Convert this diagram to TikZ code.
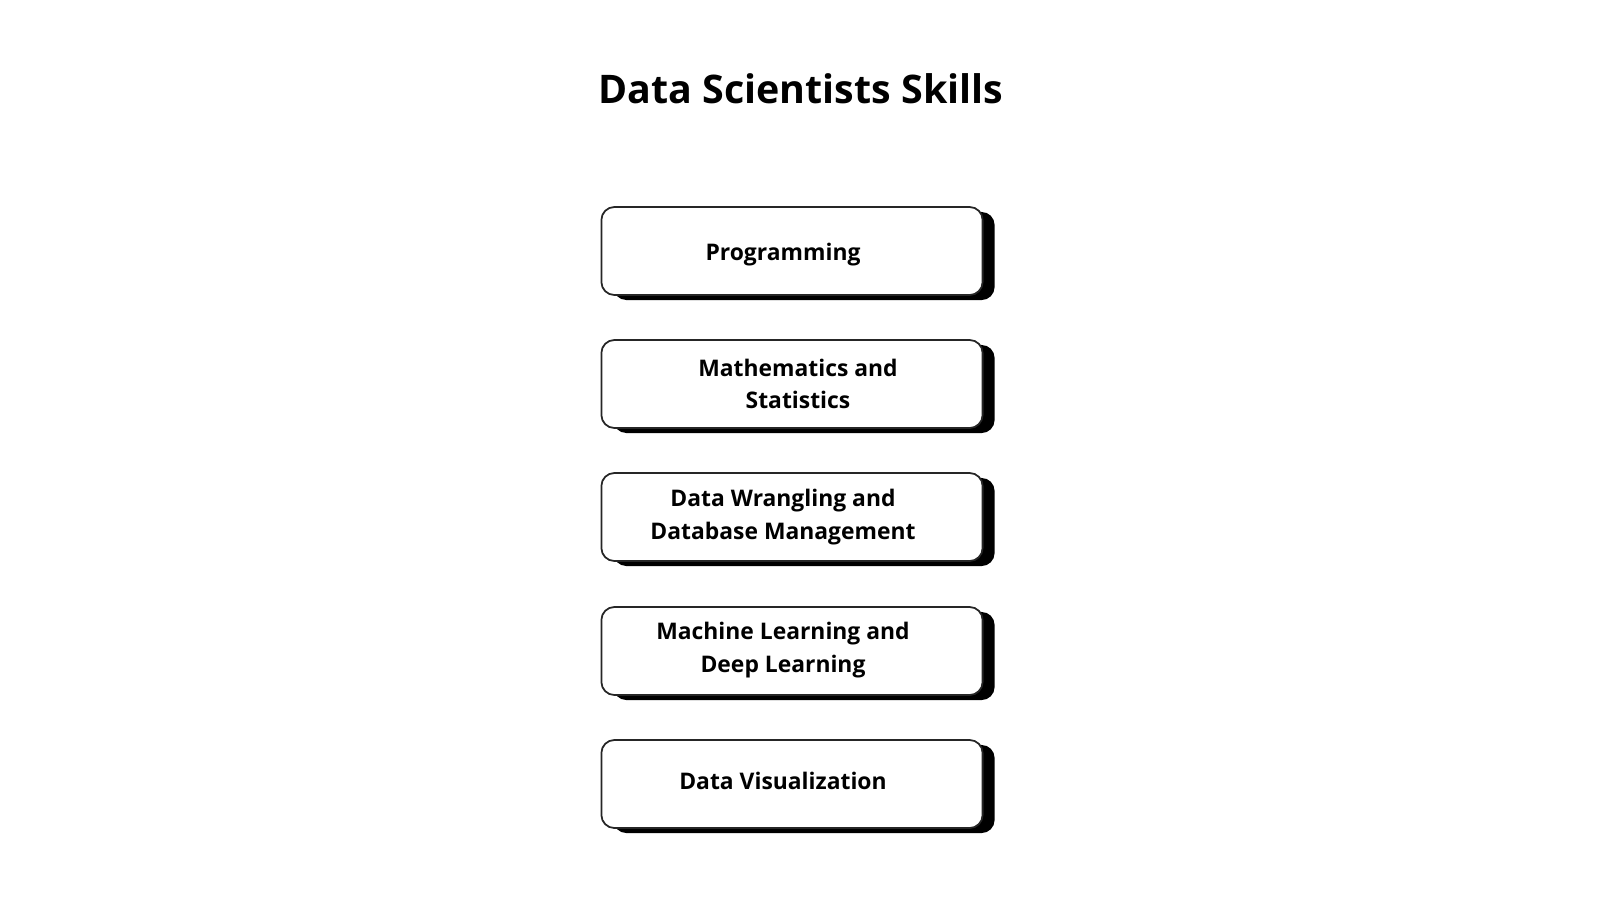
\documentclass[tikz,border=0pt]{standalone}
\usepackage{fontspec}
\setmainfont{Open Sans}
\usetikzlibrary{shadows,positioning}

\tikzset{
    skillbox/.style={draw=black!85, line width=0.5pt, fill=white,
        rounded corners=0.13cm, minimum width=3.81cm, minimum height=0.88cm,
        drop shadow={shadow xshift=0.12cm, shadow yshift=-0.05cm, fill=black, opacity=1}},
    skilltext/.style={font=\bfseries\fontsize{6.5}{9.3}\selectfont, align=center, inner sep=0pt}
}

\begin{document}
\begin{tikzpicture}[x=0.01cm, y=-0.01cm]
    \useasboundingbox (0,0) rectangle (1600,900);
    \node [font=\bfseries\fontsize{11.2}{13}\selectfont] (title) at (801,89) {Data Scientists Skills};
    % boxes
    \node [skillbox] (prog) at (792,251) {};
    \node [skillbox] (math) at (792,384) {};
    \node [skillbox] (wrang) at (792,517) {};
    \node [skillbox] (learn) at (792,651) {};
    \node [skillbox] (vis) at (792,784) {};
    % labels
    \node [skilltext] (progtext) at (783,255) {Programming};
    \node [skilltext] (mathtext) at (798,384) {Mathematics and\\Statistics};
    \node [skilltext] (wrangtext) at (783,517) {Data Wrangling and\\Database Management};
    \node [skilltext] (learntext) at (783,650) {Machine Learning and\\Deep Learning};
    \node [skilltext] (vistext) at (783,781) {Data Visualization};
\end{tikzpicture}
\end{document}
